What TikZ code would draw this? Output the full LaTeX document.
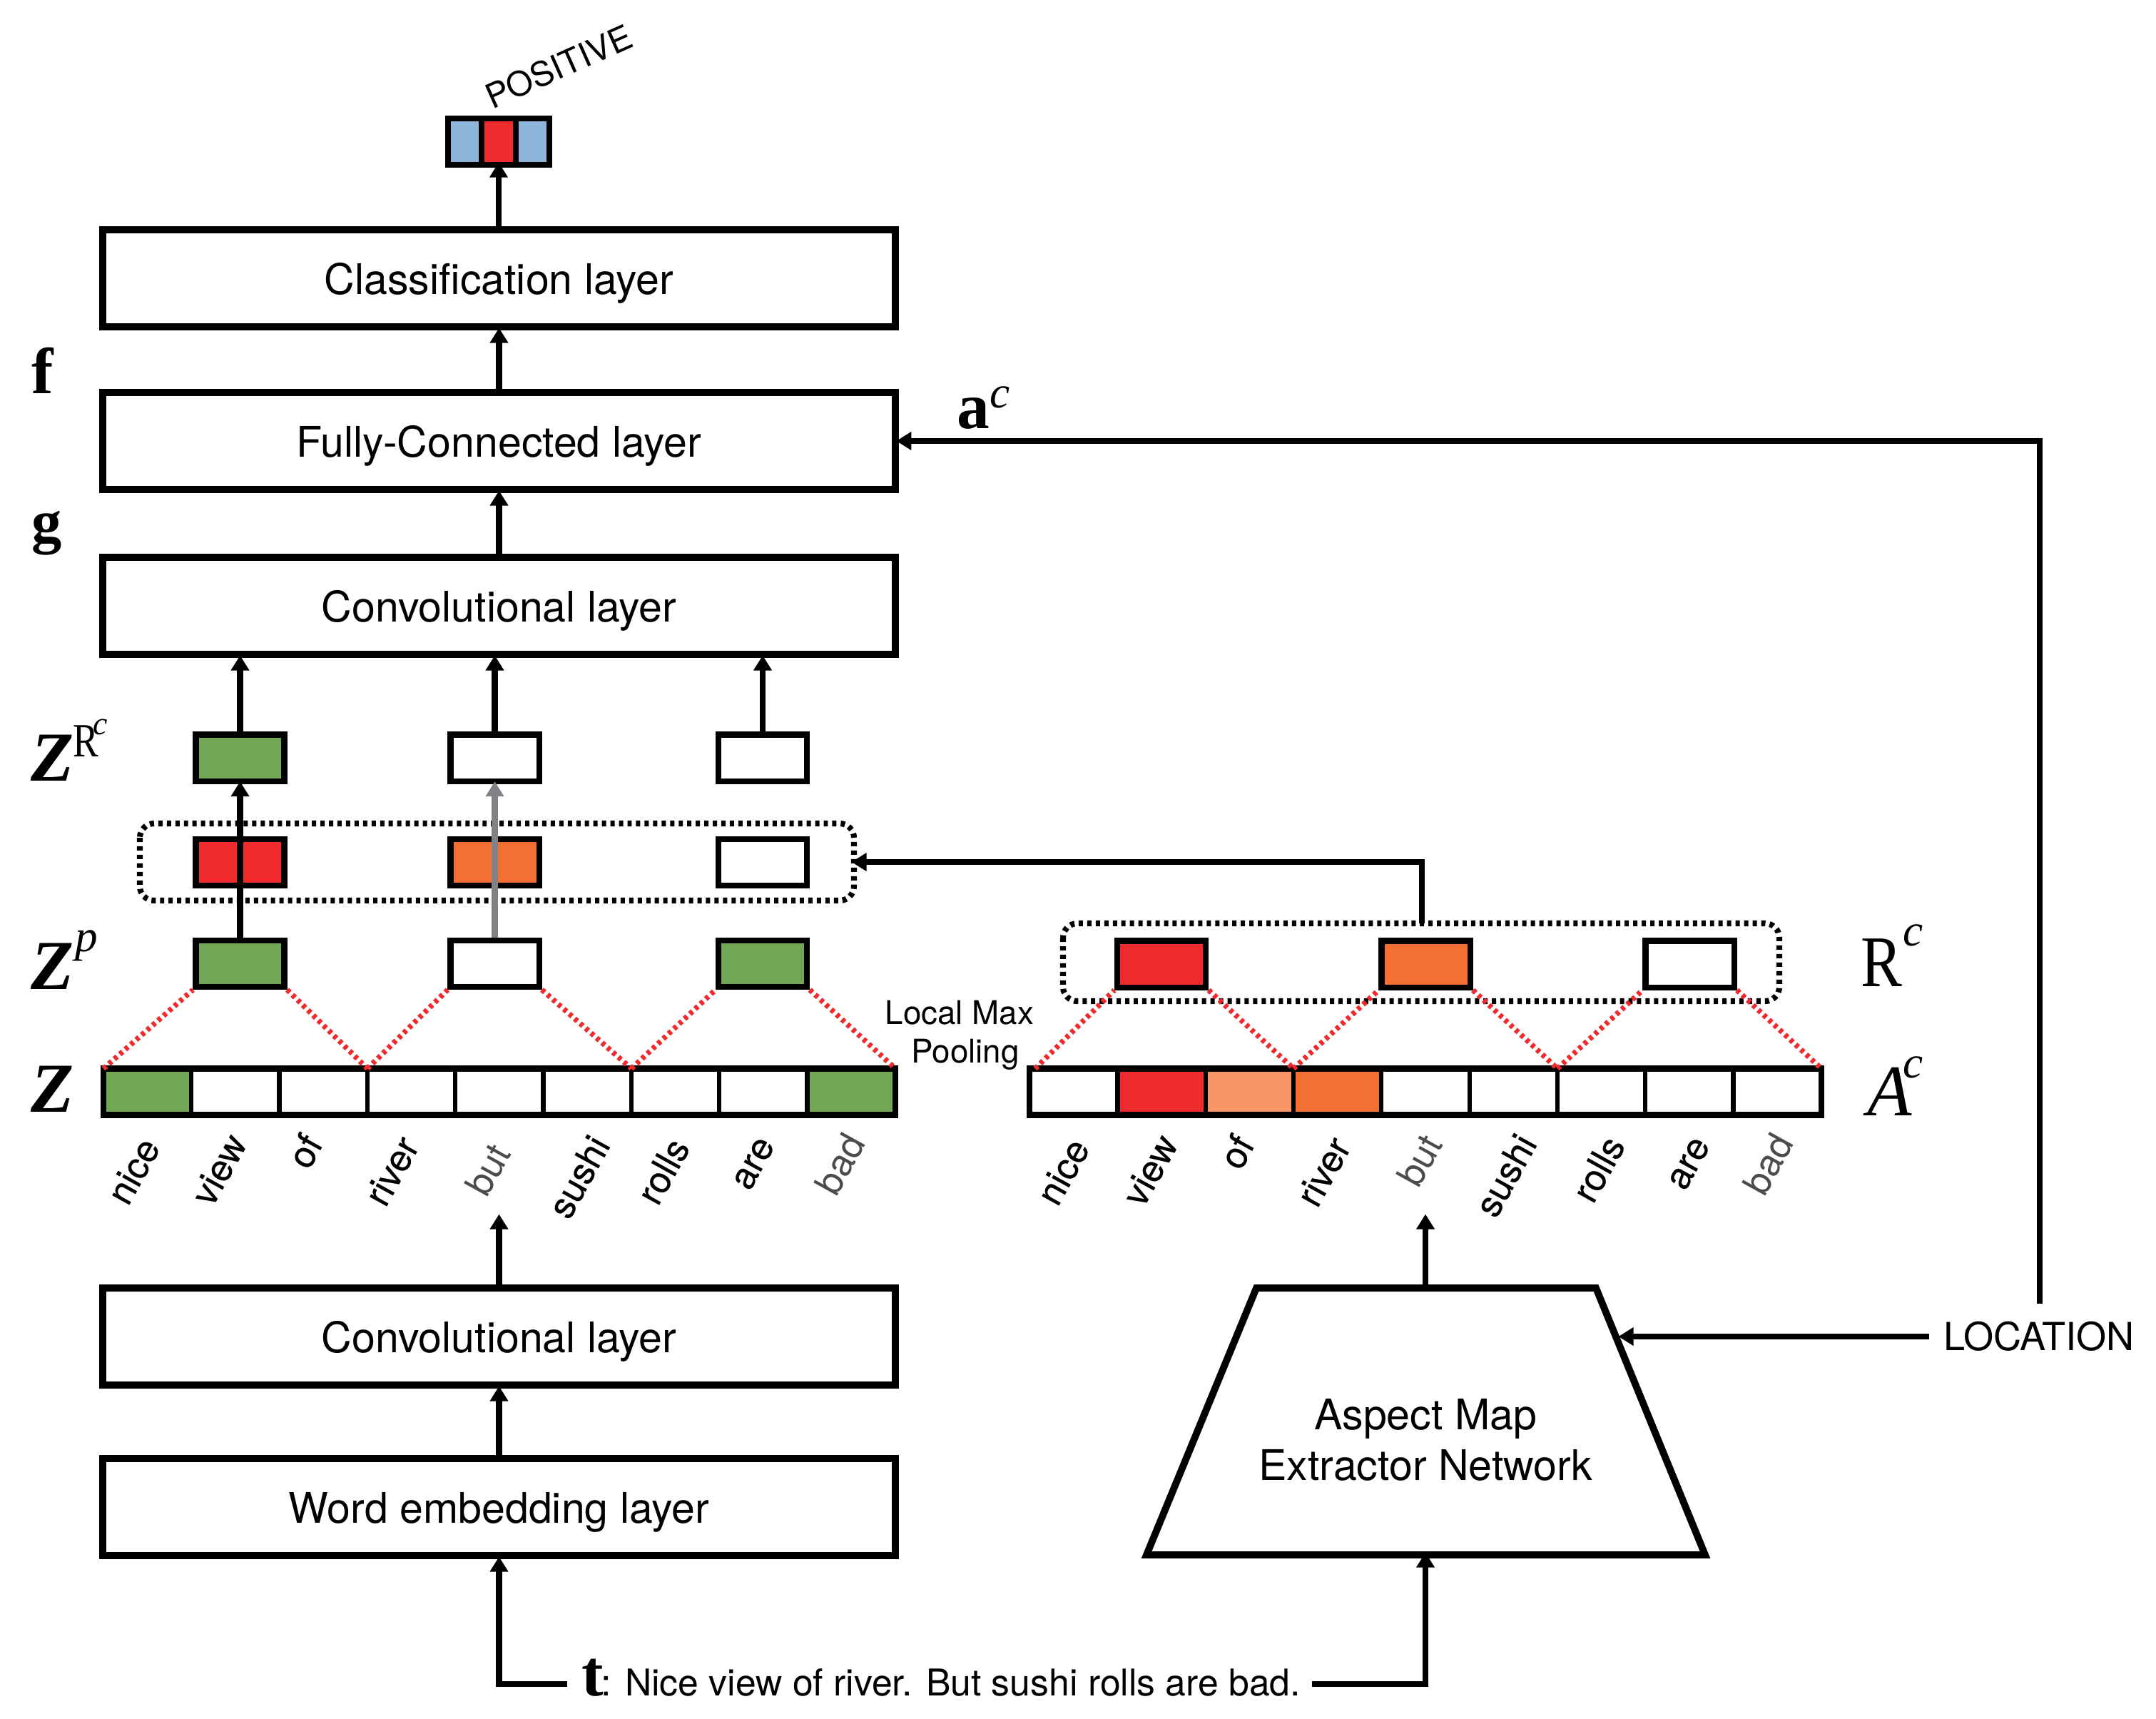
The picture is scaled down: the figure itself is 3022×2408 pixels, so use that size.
\documentclass[tikz,border=0pt]{standalone}
\usepackage{fontspec}
\setmainfont{TeX Gyre Heros}
\newfontfamily\serf{Liberation Serif}
\newfontfamily\wordf[FakeBold=0.35]{TeX Gyre Heros}
\usetikzlibrary{arrows.meta,calc}
\definecolor{cgreen}{HTML}{72A855}
\definecolor{cred}{HTML}{EF2B2D}
\definecolor{corange}{HTML}{F36F32}
\definecolor{clight}{HTML}{F79468}
\definecolor{cblue}{HTML}{8DB4D9}
\definecolor{cgray}{HTML}{808285}
\newcommand{\bigbf}{\fontsize{26}{26}\selectfont\serf\bfseries}
\newcommand{\zsym}{{\fontsize{28}{28}\selectfont\serf\bfseries\itshape Z}}
\newcommand{\supit}[1]{{\fontsize{18}{18}\selectfont\serf\itshape #1}}
\newcommand{\thinR}[2]{\scalebox{#2}[1]{\fontsize{#1}{#1}\selectfont\serf R}}
\tikzset{
  layer/.style={draw,line width=2.8pt,minimum width=11.1cm,minimum height=1.36cm,inner sep=0pt,text height=16pt,text depth=3.3pt,font=\fontsize{16.8}{16.8}\selectfont},
  small/.style={draw,line width=2.3pt,minimum width=1.24cm,minimum height=.65cm,inner sep=0pt},
  cell/.style={draw,line width=1.8pt,minimum width=1.233cm,minimum height=.65cm,inner sep=0pt,outer sep=0pt},
  barline/.style={line width=2.5pt},
  word/.style={rotate=61,inner sep=0pt,font=\wordf\fontsize{14.8}{14.8}\selectfont},
  thinword/.style={rotate=61,inner sep=0pt,font=\fontsize{14.8}{14.8}\selectfont,text=black!70},
  arr/.style={line width=2.4pt,shorten >=-1pt,-{Triangle[length=6pt,width=7pt]}},
  plain/.style={line width=2.4pt},
  gdot/.style={line width=2.3pt,dash pattern=on 1.7pt off 1.7pt,rounded corners=.2cm},
  rdot/.style={cred,line width=2.1pt,dash pattern=on 1.45pt off 1.45pt},
  lbl/.style={inner sep=0pt,anchor=base west}
}
\begin{document}
\begin{tikzpicture}[x=0.01cm,y=-0.01cm]
\useasboundingbox (0,0) rectangle (3022,2408);

% output vector
\node[cell,line width=2.3pt,fill=cblue,minimum width=.47cm] (o1) at (651.5,198.5) {};
\node[cell,line width=2.3pt,fill=cred,minimum width=.48cm] (o2) at (699,198.5) {};
\node[cell,line width=2.3pt,fill=cblue,minimum width=.47cm] (o3) at (746.5,198.5) {};
\node[rotate=24,inner sep=0pt,font=\fontsize{13.5}{13.5}\selectfont] (pos) at (783,93) {POSITIVE};

% left column layers
\node[layer] (cls) at (699.5,390) {Classification layer};
\node[layer] (fc) at (699.5,618) {Fully-Connected layer};
\node[layer] (conv2) at (699.5,849) {Convolutional layer};
\node[layer] (conv1) at (699.5,1873) {Convolutional layer};
\node[layer] (emb) at (699.5,2112) {Word embedding layer};

\node[lbl,font=\bigbf] (f) at (44,551) {f};
\node[lbl,font=\bigbf\fontsize{24}{24}\selectfont] (g) at (44,759) {g};

% dotted groups
\draw[gdot] (196,1154) rectangle (1197,1262);
\coordinate (gl) at (1197,1208);
\draw[gdot] (1490,1294) rectangle (2494,1403);
\coordinate (gr) at (1993,1294);

% small boxes, left
\foreach \n/\x/\ca/\cb/\cc in {1/336.5/cgreen/cred/cgreen,2/693.5/white/corange/white,3/1069/white/white/cgreen}{
  \node[small,fill=\ca] (zr\n) at (\x,1062) {};
  \node[small,fill=\cb] (rl\n) at (\x,1208.5) {};
  \node[small,fill=\cc] (zp\n) at (\x,1350.5) {};
}

% small boxes, right
\foreach \n/\x/\c in {1/1628/cred,2/1998.5/corange,3/2368.5/white}
  \node[small,fill=\c] (rc\n) at (\x,1351) {};

% word bars
\foreach \i/\c [evaluate=\i as \xa using {145+123.33*(\i-.5)}] in {1/cgreen,2/white,3/white,4/white,5/white,6/white,7/white,8/white,9/cgreen}
  \node[cell,fill=\c] (z\i) at (\xa,1530) {};
\draw[barline] (z1.north west) rectangle (z9.south east);
\foreach \i/\c [evaluate=\i as \xa using {1443+123.33*(\i-.5)}] in {1/white,2/cred,3/clight,4/corange,5/white,6/white,7/white,8/white,9/white}
  \node[cell,fill=\c] (a\i) at (\xa,1530) {};
\draw[barline] (a1.north west) rectangle (a9.south east);

% red pooling lines
\draw[rdot] (z1.north west) -- (zp1.south west);
\draw[rdot] (zp1.south east) -- (z3.north east);
\draw[rdot] (z3.north east) -- (zp2.south west);
\draw[rdot] (zp2.south east) -- (z6.north east);
\draw[rdot] (z6.north east) -- (zp3.south west);
\draw[rdot] (zp3.south east) -- (z9.north east);
\draw[rdot] ([xshift=.08cm]a1.north west) -- (rc1.south west);
\draw[rdot] (rc1.south east) -- (a3.north east);
\draw[rdot] (a3.north east) -- (rc2.south west);
\draw[rdot] (rc2.south east) -- (a6.north east);
\draw[rdot] (a6.north east) -- (rc3.south west);
\draw[rdot] (rc3.south east) -- (a9.north east);

% words
\foreach \n/\x/\y/\w/\s in {1/187/1641/nice/word,2/307/1639/view/word,3/427/1613/of/word,4/549/1641/river/word,5/684/1639/but/thinword,6/811/1649/sushi/word,7/929/1641/rolls/word,8/1057/1631/are/word,9/1177/1631/bad/thinword}
  \node[\s] (wl\n) at (\x,\y) {\w};
\foreach \n/\x/\y/\w/\s in {1/1490/1642/nice/word,2/1612/1640/view/word,3/1733/1614/of/word,4/1855/1642/river/word,5/1990/1626/but/thinword,6/2110/1647/sushi/word,7/2240/1638/rolls/word,8/2368/1631/are/word,9/2478/1631/bad/thinword}
  \node[\s] (wr\n) at (\x,\y) {\w};

% aspect map extractor
\draw[line width=2.8pt] (1761,1805) -- (2237,1805) -- (2390,2179) -- (1607,2179) -- cycle;
\coordinate (ttop) at (1998,1802);
\coordinate (tbot) at (1998,2179);
\node[inner sep=0pt,align=center,font=\fontsize{16.8}{20.1}\selectfont] (ame) at (1998,2018) {Aspect Map\\[0pt]Extractor Network};

% input sentence and location
\node[inner sep=0pt,anchor=base west,font=\fontsize{14.7}{14.7}\selectfont] (sent) at (815,2376) {{\bigbf t}\kern-1pt: Nice view of river. But sushi rolls are bad.};
\node[inner sep=0pt,font=\fontsize{15.4}{15.4}\selectfont] (loc) at (2858,1873) {LOCATION};
\node[inner sep=0pt,align=center,font=\fontsize{13}{15.4}\selectfont] (lmp) at (1345,1451) {Local Max\\\hspace{4.5pt}Pooling};

% symbols
\node[lbl] (lzr) at (43,1094) {\zsym\raisebox{9.4pt}{\kern-.5pt\thinR{19}{.8}\kern-2pt\raisebox{9pt}{\fontsize{13}{13}\selectfont\serf\itshape c}}};
\node[lbl] (lzp) at (43,1386) {\zsym\raisebox{15pt}{\kern.5pt\supit{p}}};
\node[lbl] (lz) at (43,1558) {\zsym};
\node[lbl] (lrc) at (2608,1382) {\thinR{29}{.85}\kern.3pt\raisebox{16pt}{\supit{c}}};
\node[lbl] (lac) at (2617,1563) {{\fontsize{29}{29}\selectfont\serf\itshape A}\kern-3.7pt\raisebox{15pt}{\supit{c}}};
\node[lbl] (lfa) at (1341,600) {{\bigbf a}\raisebox{8pt}{\supit{c}}};

% arrows
\draw[arr] (cls.north -| o2) -- (o2.south);
\draw[arr] (fc.north -| cls) -- (cls.south);
\draw[arr] (conv2.north -| fc) -- (fc.south);
\foreach \n in {1,2,3}
  \draw[arr] (zr\n.north) -- (zr\n.north |- conv2.south);
\draw[arr] (zp1.north) -- (zr1.south);
\draw[arr,cgray] (zp2.north) -- (zr2.south);
\draw[plain] (gr) |- (1400,1208);
\draw[arr] (1500,1208) -- (gl);
\draw[arr] (emb.north) -- (conv1.south);
\draw[arr] (conv1.north) -- (699.5,1705);
\draw[arr] (ttop) -- (1998,1705);
\draw[arr] ([xshift=-.2cm]sent.west |- 0,2360) -| (emb.south);
\draw[arr] ([xshift=.15cm]sent.east |- 0,2360) -| (tbot);
\draw[arr] (2704,1873) -- (2272,1873);
\draw[arr] (2859,1827) |- (fc.east);
\end{tikzpicture}
\end{document}
